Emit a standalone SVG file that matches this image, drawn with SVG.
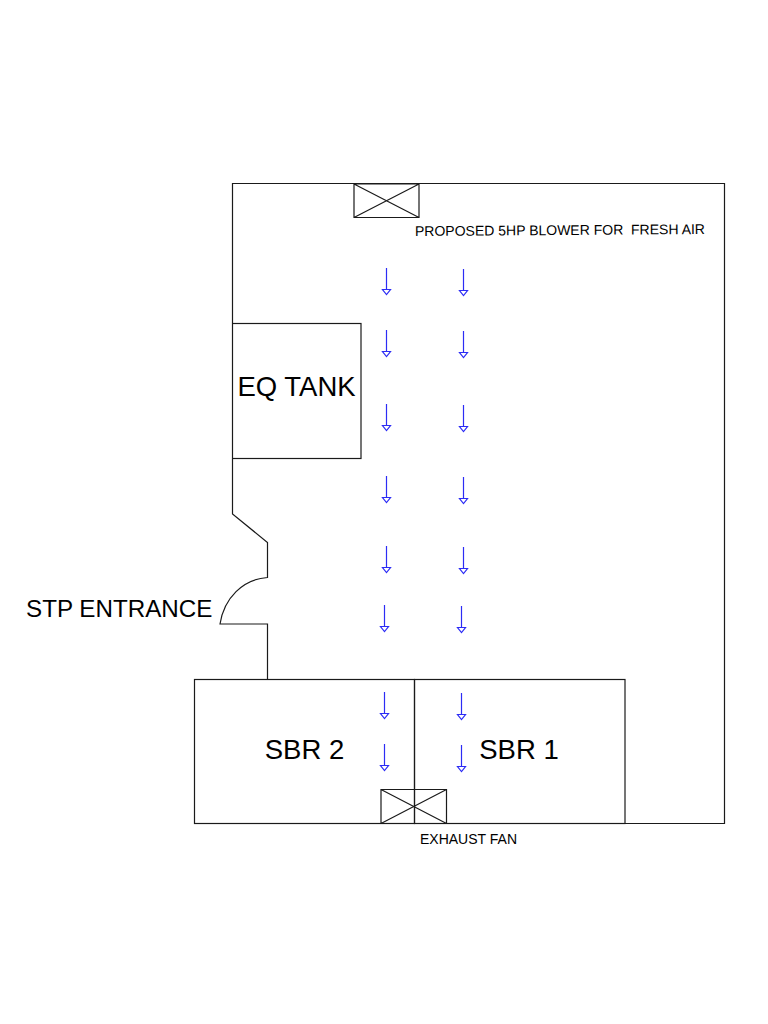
<svg xmlns="http://www.w3.org/2000/svg" width="768" height="1024" viewBox="0 0 768 1024">
<defs>
<style>
.l{fill:none;stroke:#1a1a1a;stroke-width:1.2}
.t{font-family:"Liberation Sans",Arial,sans-serif;fill:#000;white-space:pre}
.b{font-size:27.500px}
.s{font-size:14px}
.a{fill:none;stroke:#2c2cf5;stroke-width:1.200}
</style>
<g id="arr"><path class="a" d="M0 0V21.500M-4 21.500H4L0 26.500Z"/></g>
</defs>
<rect width="768" height="1024" fill="#fff"/>
<g id="building"><path class="l" d="M232.500 323V183.500H724.500V823.500H625M232.500 459V514L267.500 542.500V577.500C243 579 224 598 220 624H267.500V679"/></g>
<g id="blower"><path class="l" d="M354 184H419V217.500H354ZM354 184L419 217.500M419 184L354 217.500"/></g>
<g id="eq-tank"><rect class="l" x="232.500" y="323.500" width="128.500" height="135"/><text class="t b" x="296.500" y="396" text-anchor="middle">EQ TANK</text></g>
<g id="sbr-2"><rect class="l" x="194.500" y="679.500" width="220" height="144"/><text class="t b" x="304.500" y="759" text-anchor="middle">SBR 2</text></g>
<g id="sbr-1"><rect class="l" x="414.500" y="679.500" width="210.500" height="144"/><text class="t b" x="519" y="759" text-anchor="middle">SBR 1</text></g>
<g id="exhaust"><path class="l" d="M381 789.500H446.500V823.500H381ZM381 789.500L446.500 823.500M446.500 789.500L381 823.500"/></g>
<g id="connectors">
<use href="#arr" x="386.500" y="268"/><use href="#arr" x="463.500" y="269"/>
<use href="#arr" x="386.500" y="330"/><use href="#arr" x="463.500" y="331"/>
<use href="#arr" x="386.500" y="404"/><use href="#arr" x="463.500" y="405"/>
<use href="#arr" x="386.500" y="476"/><use href="#arr" x="463.500" y="477"/>
<use href="#arr" x="386.500" y="546"/><use href="#arr" x="463.500" y="547"/>
<use href="#arr" x="384.500" y="605"/><use href="#arr" x="461.500" y="606"/>
<use href="#arr" x="384.500" y="692"/><use href="#arr" x="461.500" y="693"/>
<use href="#arr" x="384.500" y="744"/><use href="#arr" x="461.500" y="745"/>
</g>
<g id="labels">
<text class="t s" x="415" y="236" textLength="290" lengthAdjust="spacing" transform="rotate(-0.4 415 236)" xml:space="preserve">PROPOSED 5HP BLOWER FOR  FRESH AIR</text>
<text class="t" x="26" y="617" font-size="24.200">STP ENTRANCE</text>
<text class="t s" x="420" y="844">EXHAUST FAN</text>
</g>
</svg>
